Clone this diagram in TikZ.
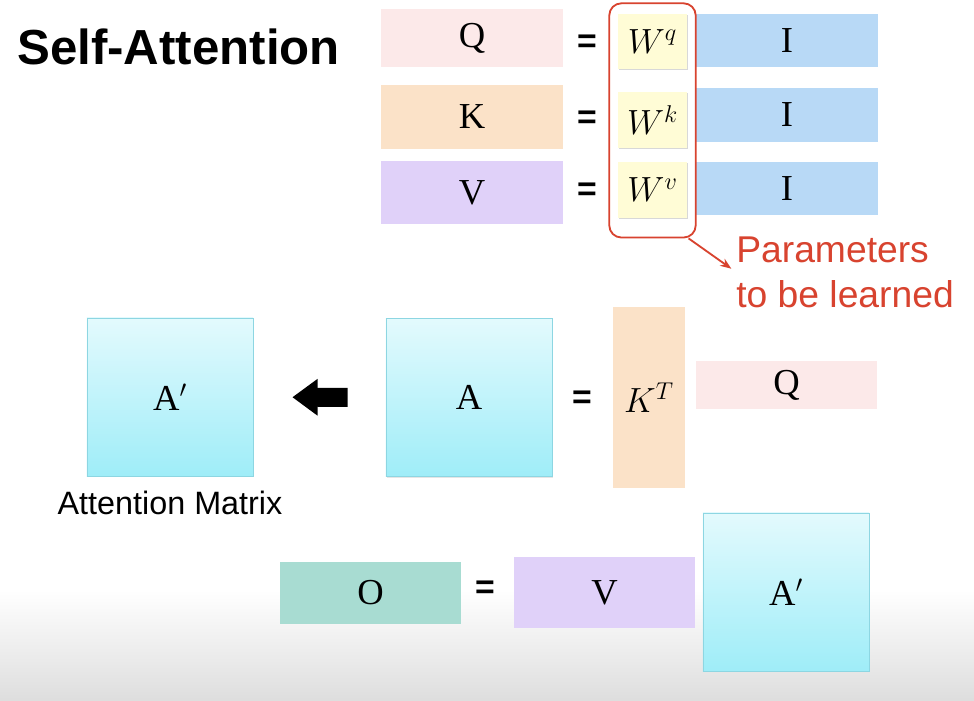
\documentclass[tikz,border=0pt]{standalone}
\usepackage{fontspec}
\setmainfont{Liberation Serif}
\setsansfont{Liberation Sans}
\usetikzlibrary{arrows.meta, positioning, fit, shadows}

\definecolor{qpink}{HTML}{FCE9E9}
\definecolor{kpeach}{HTML}{FBE2C8}
\definecolor{vlav}{HTML}{E0D1F9}
\definecolor{wyellow}{HTML}{FFFCD6}
\definecolor{iblue}{HTML}{B8D9F6}
\definecolor{oteal}{HTML}{A8DCD2}
\definecolor{paramred}{HTML}{D8432F}
\definecolor{cyantop}{HTML}{E3FAFD}
\definecolor{cyanbot}{HTML}{9FEDF8}
\definecolor{cyanline}{HTML}{8DD6E2}

\begin{document}
\begin{tikzpicture}[
  x=0.025cm, y=-0.025cm,
  mat/.style = {inner sep=0pt, minimum width=4.55cm, font=\fontsize{26}{30}\selectfont},
  wbox/.style = {fill=wyellow, inner sep=0pt, minimum width=1.725cm, minimum height=1.4cm,
                 font=\fontsize{24}{28}\selectfont,
                 drop shadow={shadow xshift=0.6pt, shadow yshift=-1pt, opacity=0.3}},
  sqbox/.style = {draw=cyanline, top color=cyantop, bottom color=cyanbot, inner sep=0pt,
                  minimum width=4.15cm, minimum height=3.95cm, font=\fontsize{26}{30}\selectfont,
                  drop shadow={shadow xshift=0.6pt, shadow yshift=-1pt, opacity=0.2}},
  eqsign/.style = {inner sep=0pt, font=\sffamily\bfseries\fontsize{24}{24}\selectfont},
  redarrow/.style = {draw=paramred, line width=1.3pt, -{Stealth[length=8pt,width=6pt]}},
  bigarrow/.style = {line width=13.5pt, -{Triangle[length=18pt,width=25pt]}}
]

  % background
  \useasboundingbox (0,0) rectangle (974,700);
  \fill[white] (0,0) rectangle (974,700);
  \shade[top color=white, bottom color=black!13] (0,590) rectangle (974,700);

  % title
  \node[anchor=west, inner sep=0pt, font=\sffamily\bfseries\fontsize{35}{40}\selectfont]
    (title) at (17,47) {Self-Attention};

  % Q K V rows
  \node[mat, fill=qpink, minimum height=1.45cm] (q) at (472,38) {Q};
  \node[mat, fill=kpeach, minimum height=1.6cm] (k) at (472,117) {K};
  \node[mat, fill=vlav, minimum height=1.575cm] (v) at (472,192.5) {V};

  \node[eqsign] (eqq) at (587,44) {=};
  \node[eqsign] (eqk) at (587,120) {=};
  \node[eqsign] (eqv) at (587,192) {=};

  \node[wbox, minimum height=1.375cm] (wq) at (652.5,41.5) {$W^q$};
  \node[wbox] (wk) at (652.5,120) {$W^k$};
  \node[wbox] (wv) at (652.5,190) {$W^v$};

  \node[mat, fill=iblue, minimum height=1.33cm] (iq) at (787,40.5) {I};
  \node[mat, fill=iblue, minimum height=1.35cm] (ik) at (787,115) {I};
  \node[mat, fill=iblue, minimum height=1.33cm] (iv) at (787,188.5) {I};

  % parameters to be learned
  \coordinate (wbottom) at ([yshift=-0.22cm]wv.south east);
  \node[draw=paramred, line width=1.3pt, rounded corners=0.3cm, inner xsep=0.21cm,
        inner ysep=0.26cm, fit=(wq.north west)(wbottom)] (params) {};
  \node[anchor=west, inner sep=0pt, align=left, text=paramred,
        font=\sffamily\fontsize{26.5}{32}\selectfont] (paramtext) at (736,272)
    {Parameters\\to be learned};
  \draw[redarrow, shorten >=4pt] ([xshift=-0.2cm]params.south east) -- (paramtext.west);

  % attention matrix
  \node[sqbox] (aprime) at (170,397) {A$'$};
  \node[below=0.35cm of aprime, inner sep=0pt, font=\sffamily\fontsize{23}{26}\selectfont]
    (attlabel) {Attention Matrix};

  \node[sqbox] (amat) at (469,397.5) {A};
  \draw[bigarrow, shorten <=0.95cm, shorten >=0.975cm] (amat) -- (aprime);

  \node[eqsign] (eqa) at (582,400) {=};
  \node[fill=kpeach, inner sep=0pt, minimum width=1.8cm, minimum height=4.525cm,
        font=\fontsize{24}{28}\selectfont] (kt) at (649,397.5) {$K^T$};
  \node[mat, fill=qpink, minimum width=4.525cm, minimum height=1.2cm] (qlow) at (786.5,385) {Q};

  % output
  \node[mat, fill=oteal, minimum width=4.525cm, minimum height=1.55cm] (o) at (370.5,593) {O};
  \node[eqsign] (eqo) at (485,590) {=};
  \node[mat, fill=vlav, minimum width=4.525cm, minimum height=1.775cm] (vlow) at (604.5,592.5) {V};
  \node[sqbox] (aprimelow) at (786,592) {A$'$};

\end{tikzpicture}
\end{document}
